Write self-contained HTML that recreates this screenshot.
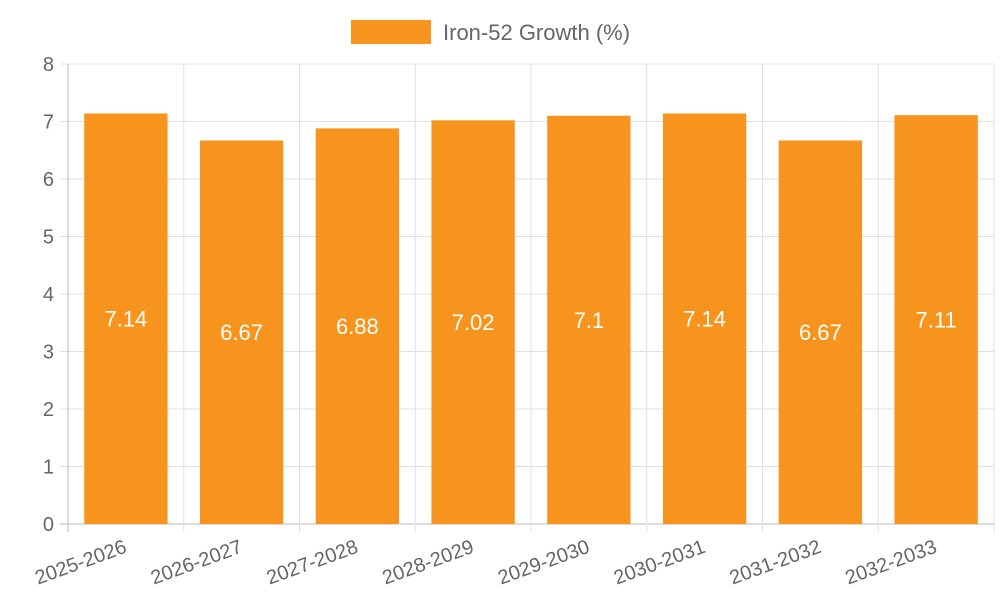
<!DOCTYPE html>
<html><head><meta charset="utf-8"><style>
body{margin:0;background:#fff;font-family:"Liberation Sans",sans-serif}
svg text{font-family:"Liberation Sans",sans-serif}
</style></head><body>
<svg id="c" width="1000" height="600"></svg>
<script>
const categories=["2025-2026","2026-2027","2027-2028","2028-2029","2029-2030","2030-2031","2031-2032","2032-2033"];
const values=[7.14,6.67,6.88,7.02,7.1,7.14,6.67,7.11];
const yTicks=[0,1,2,3,4,5,6,7,8];
const NS="http://www.w3.org/2000/svg";
const svg=document.getElementById('c');
const L=68,R=994,T=64,B=524,yMax=8;
const bw=(R-L)/categories.length;
const y=v=>B-(v/yMax)*(B-T);
const x=i=>L+i*bw;
function mk(t,a,p){const e=document.createElementNS(NS,t);for(const k in a)e.setAttribute(k,a[k]);(p||svg).appendChild(e);return e;}
const grid=mk('g',{});


yTicks.forEach(t=>{
 mk('line',{x1:L-8,x2:R,y1:y(t),y2:y(t),stroke:t===0?'#bbb':'#e0e0e0','stroke-width':1},grid);
 const tx=mk('text',{x:L-14,y:y(t)+7,'text-anchor':'end','font-size':20,fill:'#666'});
 tx.textContent=t;
 
 
});
for(let i=0;i<=categories.length;i++){
 mk('line',{x1:x(i),x2:x(i),y1:T,y2:B+8,stroke:i===0?'#bbb':'#e0e0e0','stroke-width':1},grid);
}
categories.forEach((c,i)=>{
 const cx=x(i)+bw/2, w=bw*0.72;
 const r=mk('rect',{x:cx-w/2,y:y(values[i]),width:w,height:B-y(values[i]),fill:'#f7941d'});
 
 
 const vt=mk('text',{x:cx,y:(y(values[i])+B)/2+8,'text-anchor':'middle','font-size':22,fill:'#fff'});
 vt.textContent=values[i];
 
 
 const lt=mk('text',{x:cx+2,y:B+28,'text-anchor':'end','font-size':20,fill:'#666',transform:`rotate(-20 ${cx+2} ${B+28})`});
 lt.textContent=c;
 
 
});
const lg=mk('g',{});


mk('rect',{x:351,y:20,width:80,height:24,fill:'#f7941d'},lg);
const lt=mk('text',{x:443,y:40,'font-size':22,fill:'#666'},lg);
lt.textContent='Iron-52 Growth (%)';
</script>
</body></html>
